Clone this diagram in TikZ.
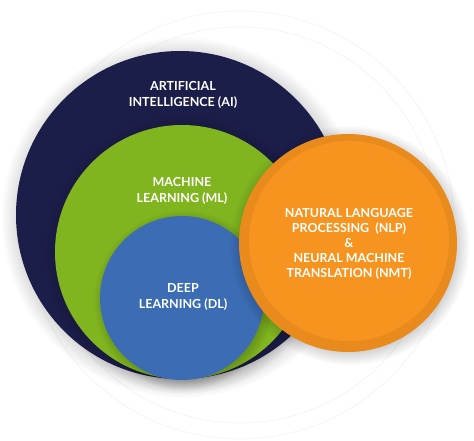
\documentclass[tikz,border=0pt]{standalone}
\usepackage{fontspec}
\setmainfont{Lato}
\usetikzlibrary{shadows}
\definecolor{navy}{HTML}{1C1E4A}
\definecolor{leaf}{HTML}{80B520}
\definecolor{sky}{HTML}{3B6CB4}
\definecolor{orangeA}{HTML}{E98A1C}
\definecolor{orangeB}{HTML}{F7941F}
\tikzset{
  disc/.style={circle, inner sep=0pt, minimum size=#1},
  lbl/.style={text=white, align=center, font=\bfseries\fontsize{12.5}{15.5}\selectfont},
  faint/.style={draw=black!4, line width=0.8pt},
  shade/.style={circular drop shadow={shadow xshift=1.5pt, shadow yshift=-2pt, opacity=0.22, fill=black}}
}
\begin{document}
\begin{tikzpicture}[x=1pt,y=-1pt]
\useasboundingbox (0,0) rectangle (474,440);
\fill[white] (0,0) rectangle (474,440);
% faint background arcs
\draw[faint] (240,225) circle[radius=198];
\draw[faint] (240,225) circle[radius=214];
% circles
\node[disc=328pt, fill=navy, shade] (ai) at (180,215) {};
\node[disc=254pt, fill=leaf, shade] (ml) at (182,252) {};
\node[disc=164pt, fill=sky, shade] (dl) at (182,298) {};
\node[disc=218pt, fill=orangeA, shade] (nlpring) at (348,243) {};
\node[disc=200pt, fill=orangeB] (nlp) at (349,241) {};
% labels
\node[lbl] (ait) at (183,95) {ARTIFICIAL\\INTELLIGENCE (AI)};
\node[lbl] (mlt) at (182,191) {MACHINE\\LEARNING (ML)};
\node[lbl] (dlt) at (183,297) {DEEP\\LEARNING (DL)};
\node[lbl, font=\bfseries\fontsize{12.5}{15}\selectfont] (nlpt) at (349,244) {NATURAL LANGUAGE\\PROCESSING~~(NLP)\\\&\\NEURAL MACHINE\\TRANSLATION (NMT)};
\end{tikzpicture}
\end{document}
